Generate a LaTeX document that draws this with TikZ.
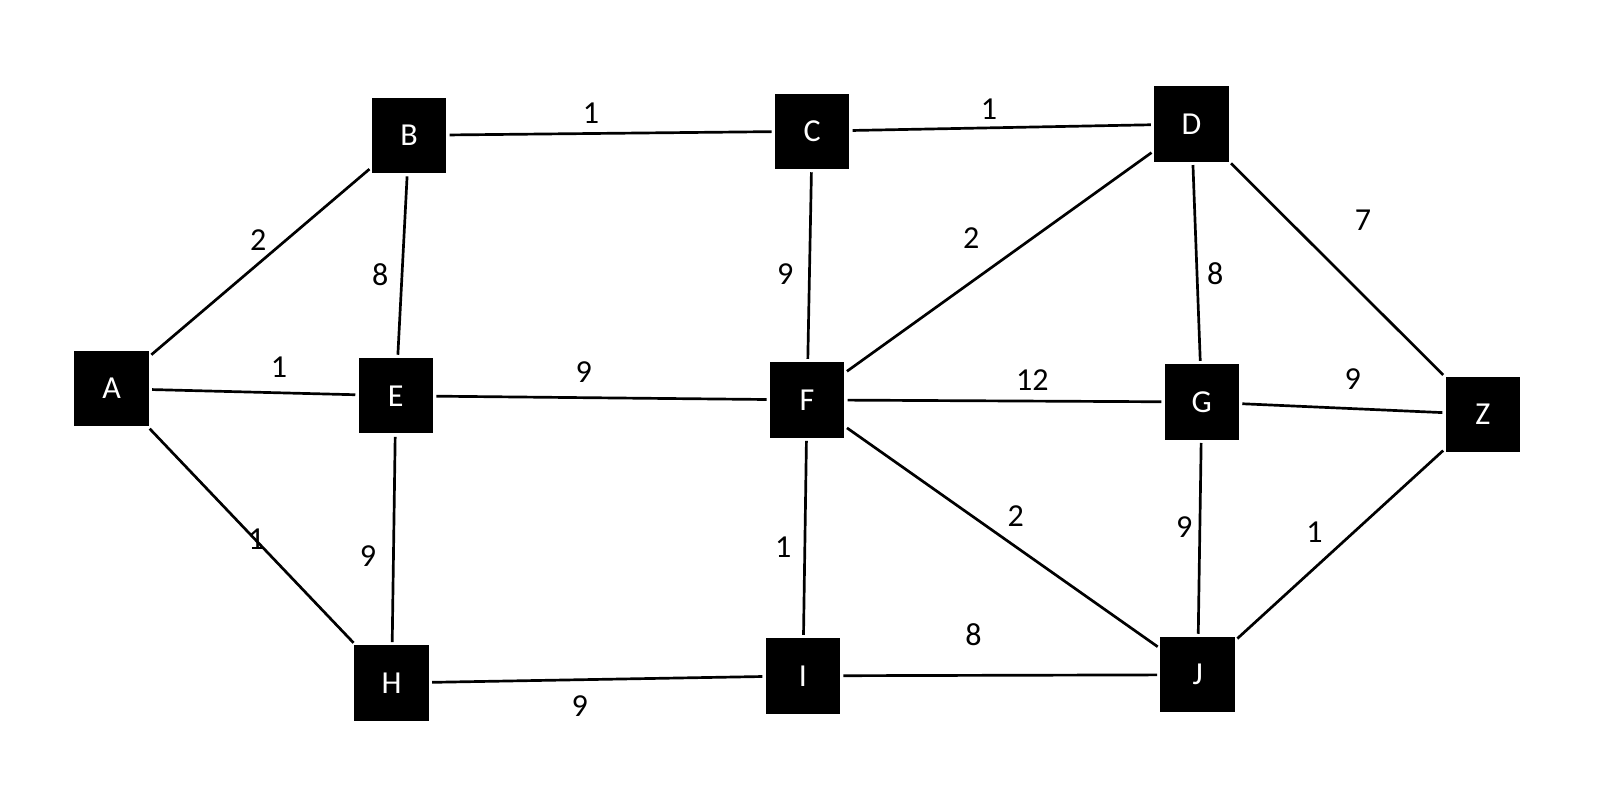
\documentclass[tikz,border=0pt]{standalone}
\usepackage{fontspec}
\setmainfont{Carlito}
\begin{document}
\begin{tikzpicture}[x=1pt,y=-1pt,
  box/.style={fill=black,text=white,minimum width=72pt,minimum height=73pt,inner sep=0pt,font=\fontsize{31}{31}\selectfont},
  wt/.style={font=\fontsize{31}{31}\selectfont,inner sep=0pt},
  edge/.style={line width=2.6pt,shorten >=3pt,shorten <=3pt}]
\useasboundingbox (0,0) rectangle (1560,782);
\fill[white] (0,0) rectangle (1560,782);
\node[box] (A) at (108,376) {A};
\node[box] (B) at (396,131) {B};
\node[box] (C) at (786,127) {C};
\node[box] (D) at (1153,120) {D};
\node[box] (E) at (383,383) {E};
\node[box] (F) at (781,387) {F};
\node[box] (G) at (1163,389) {G};
\node[box] (Z) at (1435,401) {Z};
\node[box] (H) at (379,661) {H};
\node[box] (I) at (777,654) {I};
\node[box] (J) at (1159,653) {J};
\draw[edge] (A) -- (B);
\draw[edge] (A) -- (E);
\draw[edge] (A) -- (H);
\draw[edge] (B) -- (E);
\draw[edge] (B) -- (C);
\draw[edge] (E) -- (F);
\draw[edge] (E) -- (H);
\draw[edge] (C) -- (F);
\draw[edge] (C) -- (D);
\draw[edge] (D) -- (F);
\draw[edge] (D) -- (G);
\draw[edge] (D) -- (Z);
\draw[edge] (F) -- (G);
\draw[edge] (G) -- (Z);
\draw[edge] (F) -- (J);
\draw[edge] (G) -- (J);
\draw[edge] (F) -- (I);
\draw[edge] (J) -- (Z);
\draw[edge] (H) -- (I);
\draw[edge] (I) -- (J);
\node[wt] (wAB) at (250,232) {2};
\node[wt] (wBE) at (368,266) {8};
\node[wt] (wAE) at (270,355) {1};
\node[wt] (wAH) at (248,522) {1};
\node[wt] (wEH) at (356,538) {9};
\node[wt] (wBC) at (572,110) {1};
\node[wt] (wEF) at (565,360) {9};
\node[wt] (wCF) at (760,265) {9};
\node[wt] (wCD) at (957,106) {1};
\node[wt] (wDF) at (940,230) {2};
\node[wt] (wDG) at (1176,265) {8};
\node[wt] (wDZ) at (1319,213) {7};
\node[wt] (wFG) at (999,368) {12};
\node[wt] (wGZ) at (1309,367) {9};
\node[wt] (wFJ) at (983,499) {2};
\node[wt] (wGJ) at (1146,510) {9};
\node[wt] (wFI) at (758,530) {1};
\node[wt] (wJZ) at (1272,515) {1};
\node[wt] (wHI) at (561,683) {9};
\node[wt] (wIJ) at (942,614) {8};
\end{tikzpicture}
\end{document}
